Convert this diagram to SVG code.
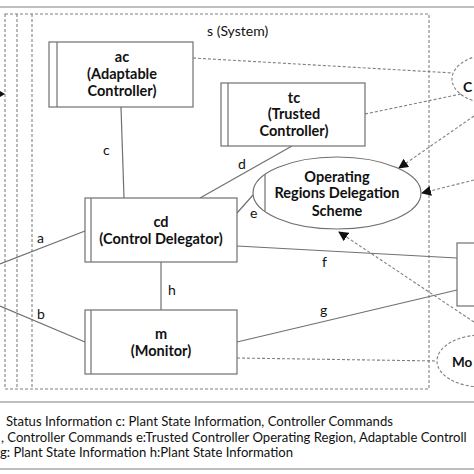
<svg xmlns="http://www.w3.org/2000/svg" width="474" height="474" viewBox="0 0 474 474">
<defs>
<marker id="arr" markerWidth="10" markerHeight="10" refX="9" refY="5" orient="auto" markerUnits="userSpaceOnUse">
<path d="M0,0 L10,5 L0,10 z" fill="#111"/>
</marker>
<style>
.box{fill:#fff;stroke:#707070;stroke-width:1.2}
.inner{stroke:#707070;stroke-width:1.2}
.solid{stroke:#707070;stroke-width:1.2;fill:none}
.dash{stroke:#808080;stroke-width:1.1;fill:none;stroke-dasharray:3,2}
.rule{stroke:#a8a8a8;stroke-width:1.6}
.nt{font-family:Lato,"Liberation Sans",sans-serif;font-weight:bold;font-size:14.5px;fill:#111;text-anchor:middle}
.lbl{font-family:Lato,"Liberation Sans",sans-serif;font-size:14px;fill:#111}
.cap{font-family:Lato,"Liberation Sans",sans-serif;font-size:13.1px;fill:#111}
</style>
</defs>
<rect width="474" height="474" fill="#fff"/>
<line class="rule" x1="0" y1="7" x2="474" y2="7"/>
<line class="rule" x1="0" y1="402" x2="474" y2="402"/>
<line class="rule" x1="0" y1="469" x2="474" y2="469"/>
<g id="system">
<path class="dash" d="M5,14 H429 V389 H5 Z"/>
<line class="dash" x1="17" y1="14" x2="17" y2="389"/>
<line class="dash" x1="32" y1="14" x2="32" y2="389"/>
<text class="lbl" x="207" y="36">s (System)</text>
</g>
<g id="connectors">
<path d="M0,91 L5,94 L0,97 z" fill="#111"/>
<line class="solid" x1="121" y1="107" x2="124" y2="198"/>
<line class="solid" x1="292" y1="146" x2="200" y2="198"/>
<line class="solid" x1="161" y1="262" x2="161" y2="310"/>
<line class="solid" x1="85" y1="231" x2="0" y2="264"/>
<line class="solid" x1="85" y1="342" x2="0" y2="306"/>
<line class="solid" x1="237" y1="213" x2="253" y2="195"/>
<line class="solid" x1="237" y1="246" x2="457" y2="258"/>
<line class="solid" x1="237" y1="342" x2="457" y2="290"/>
<line class="dash" x1="193" y1="58" x2="453" y2="73"/>
<line class="dash" x1="365" y1="114" x2="461" y2="94"/>
<line class="dash" x1="474" y1="116" x2="399" y2="168" marker-end="url(#arr)"/>
<line class="dash" x1="474" y1="180" x2="422" y2="193" marker-end="url(#arr)"/>
<line class="dash" x1="474" y1="322" x2="339" y2="232" marker-end="url(#arr)"/>
<line class="dash" x1="237" y1="358" x2="437" y2="361"/>
<text class="lbl" x="103" y="155">c</text>
<text class="lbl" x="238" y="169">d</text>
<text class="lbl" x="250" y="218">e</text>
<text class="lbl" x="322" y="267">f</text>
<text class="lbl" x="320" y="315">g</text>
<text class="lbl" x="168" y="295">h</text>
<text class="lbl" x="37" y="243">a</text>
<text class="lbl" x="37" y="319">b</text>
</g>
<g id="ac">
<rect class="box" x="49" y="42" width="144" height="65"/>
<line class="inner" x1="57" y1="42" x2="57" y2="107"/>
<text class="nt" x="122" y="62">ac</text>
<text class="nt" x="122" y="79">(Adaptable</text>
<text class="nt" x="122" y="96">Controller)</text>
</g>
<g id="tc">
<rect class="box" x="221" y="83" width="144" height="63"/>
<line class="inner" x1="228" y1="83" x2="228" y2="146"/>
<text class="nt" x="294" y="103">tc</text>
<text class="nt" x="294" y="119">(Trusted</text>
<text class="nt" x="294" y="136">Controller)</text>
</g>
<g id="cd">
<rect class="box" x="85" y="198" width="152" height="64"/>
<line class="inner" x1="91" y1="198" x2="91" y2="262"/>
<text class="nt" x="161" y="227">cd</text>
<text class="nt" x="161" y="244">(Control Delegator)</text>
</g>
<g id="m">
<rect class="box" x="85" y="310" width="152" height="64"/>
<line class="inner" x1="91" y1="310" x2="91" y2="374"/>
<text class="nt" x="161" y="339">m</text>
<text class="nt" x="161" y="356">(Monitor)</text>
</g>
<g id="scheme">
<ellipse class="box" cx="337" cy="193" rx="84" ry="36"/>
<line class="inner" x1="265" y1="175" x2="265" y2="211"/>
<text class="nt" x="337" y="182">Operating</text>
<text class="nt" x="337" y="198">Regions Delegation</text>
<text class="nt" x="337" y="216">Scheme</text>
</g>
<g id="plant">
<rect class="box" x="457" y="243" width="40" height="63"/>
</g>
<g id="c-ellipse">
<ellipse class="dash" cx="494" cy="79" rx="42" ry="25" fill="#fff"/>
<text class="nt" x="463" y="92" style="text-anchor:start;font-size:14px">C</text>
</g>
<g id="mo-ellipse">
<ellipse class="dash" cx="482" cy="361" rx="45" ry="26" fill="#fff"/>
<text class="nt" x="452" y="367" style="text-anchor:start;font-size:13.5px">Mo</text>
</g>
<g id="caption">
<text class="cap" x="6" y="426">Status Information c: Plant State Information, Controller Commands</text>
<text class="cap" x="1" y="442">, Controller Commands e:Trusted Controller Operating Region, Adaptable Controll</text>
<text class="cap" x="0" y="457">g: Plant State Information h:Plant State Information</text>
</g>
</svg>
